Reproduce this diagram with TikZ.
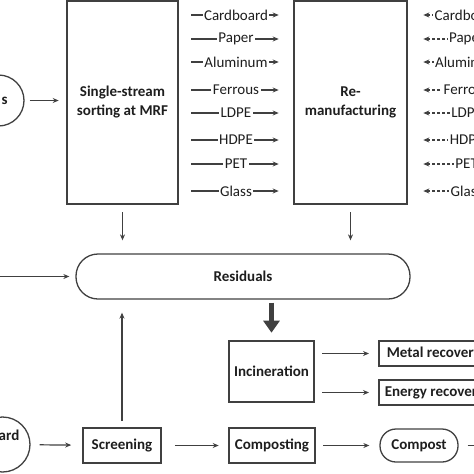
\documentclass[tikz,border=0pt]{standalone}
\usepackage{fontspec}
\setmainfont{Carlito}
\usetikzlibrary{arrows.meta}
\definecolor{edge}{HTML}{404040}
\definecolor{txt}{HTML}{1E1E1E}

\begin{document}
\begin{tikzpicture}[x=1pt, y=-1pt, font=\fontsize{15}{19}\selectfont, text=txt,
        bold/.style={font=\fontsize{15}{19}\selectfont\bfseries, align=center},
        thickbox/.style={draw=edge, line width=2.6pt, rectangle, inner sep=0pt, bold},
        thinbox/.style={draw=edge, line width=1.6pt, rectangle, inner sep=0pt, bold},
        flow/.style={draw=edge, line width=1.2pt, -{Stealth[length=6pt,width=5pt]}},
        back/.style={flow, dash pattern=on 3pt off 2pt},
        bigflow/.style={draw=edge, line width=5pt, -{Triangle[length=12pt,width=16pt]}},
        item/.style={fill=white, inner xsep=1.5pt, inner ysep=1pt}]
        \useasboundingbox (0,0) rectangle (474,474);
        \clip (0,0) rectangle (474,474);

        % Nodes
        \node (mrf) [thickbox, minimum width=111pt, minimum height=203pt] at (122.5,102.5) {Single-stream\\sorting at MRF};
        \node (reman) [thickbox, minimum width=113pt, minimum height=203pt] at (350.5,102.5) {Re-\\manufacturing};
        \node (res) [draw=edge, line width=1.3pt, rounded corners=22pt, minimum width=334pt, minimum height=45pt, bold] at (243,276.5) {Residuals};
        \node (incin) [thickbox, minimum width=85pt, minimum height=61pt] at (271.5,371.5) {Incineration};
        \node (compo) [thickbox, minimum width=86pt, minimum height=35pt] at (272,445.5) {Composting};
        \node (screen) [thinbox, minimum width=78pt, minimum height=35pt] at (122,445.5) {Screening};
        \node (metal) [thinbox, anchor=west, minimum height=25pt, inner xsep=8pt] at (378,353.5) {Metal recovery};
        \node (energy) [thinbox, anchor=west, minimum height=25pt, inner xsep=6pt] at (378,392.5) {Energy recovery};
        \node (compost) [draw=edge, line width=1.3pt, rounded corners=16pt, minimum width=78pt, minimum height=33pt, bold] at (419,445.5) {Compost};
        \node (src) [circle, draw=edge, line width=1.3pt, minimum size=51pt] at (-1.5,100.5) {};
        \node (srclbl) [bold] at (4.5,101) {s};
        \node (yard) [circle, draw=edge, line width=1.3pt, minimum size=55pt] at (2.5,444.5) {};
        \node (yardlbl) [bold] at (9,435) {ard};
        \coordinate (inres) at (-10,276.5);
        \coordinate (far) at (525,0);
        \coordinate (outcomp) at (500,445.5);

        % Edges
        \draw[flow, shorten <=5pt, shorten >=7pt] (src) -- (mrf.west |- src);
        \foreach \name/\y in {Cardboard/15, Paper/39, Aluminum/62, Ferrous/90, LDPE/113, HDPE/140, PET/164, Glass/191}
        {
            \draw[flow, shorten <=12pt, shorten >=14pt] (mrf.east |- 0,\y) -- node[item] {\name} (reman.west |- 0,\y);
            \draw[back, shorten >=15pt] (far |- 0,\y) -- node[item] {\name} (reman.east |- 0,\y);
        }
        \draw[flow, shorten <=7pt, shorten >=13pt] (mrf.south) -- (mrf.south |- res.north);
        \draw[flow, shorten <=7pt, shorten >=13pt] (reman.south) -- (reman.south |- res.north);
        \draw[flow, shorten >=6pt] (inres) -- (res.west);
        \draw[flow, shorten <=6pt, shorten >=13pt] (screen.north) -- (screen.north |- res.south);
        \draw[bigflow, shorten <=3pt, shorten >=7pt] (res.south -| incin) -- (incin.north);
        \draw[flow, shorten <=7pt, shorten >=9pt] (incin.east |- metal) -- (metal.west);
        \draw[flow, shorten <=7pt, shorten >=9pt] (incin.east |- energy) -- (energy.west);
        \draw[flow, shorten <=9pt, shorten >=11pt] (yard) -- (screen);
        \draw[flow, shorten <=13pt, shorten >=9pt] (screen) -- (compo);
        \draw[flow, shorten <=7pt, shorten >=10pt] (compo) -- (compost);
        \draw[flow, shorten <=9pt] (compost) -- (outcomp);
\end{tikzpicture}
\end{document}
